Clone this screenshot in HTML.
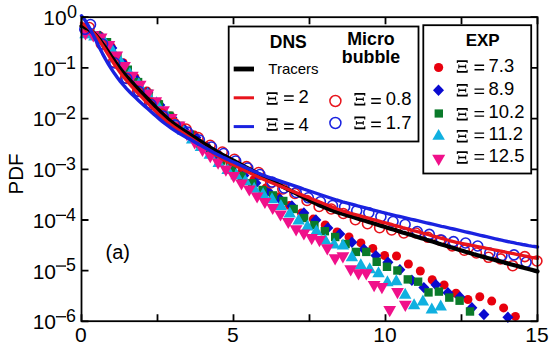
<!DOCTYPE html><html><head><meta charset="utf-8"><style>html,body{margin:0;padding:0;background:#fff;}svg{display:block;}</style></head><body>
<svg width="558" height="352" viewBox="0 0 558 352" font-family="Liberation Sans, sans-serif">
<g>
<circle cx="87.4" cy="32.3" r="4.5" fill="#e8000e"/><circle cx="99.3" cy="35.5" r="4.5" fill="#e8000e"/><circle cx="111.2" cy="46.6" r="4.5" fill="#e8000e"/><circle cx="123.1" cy="62.7" r="4.5" fill="#e8000e"/><circle cx="135.0" cy="77.5" r="4.5" fill="#e8000e"/><circle cx="146.9" cy="90.9" r="4.5" fill="#e8000e"/><circle cx="158.7" cy="103.2" r="4.5" fill="#e8000e"/><circle cx="170.6" cy="116.0" r="4.5" fill="#e8000e"/><circle cx="182.5" cy="127.6" r="4.5" fill="#e8000e"/><circle cx="194.4" cy="135.1" r="4.5" fill="#e8000e"/><circle cx="206.3" cy="145.9" r="4.5" fill="#e8000e"/><circle cx="218.2" cy="154.7" r="4.5" fill="#e8000e"/><circle cx="230.1" cy="163.1" r="4.5" fill="#e8000e"/><circle cx="242.0" cy="171.4" r="4.5" fill="#e8000e"/><circle cx="253.9" cy="179.7" r="4.5" fill="#e8000e"/><circle cx="265.8" cy="188.1" r="4.5" fill="#e8000e"/><circle cx="277.6" cy="197.0" r="4.5" fill="#e8000e"/><circle cx="289.5" cy="205.6" r="4.5" fill="#e8000e"/><circle cx="301.4" cy="213.1" r="4.5" fill="#e8000e"/><circle cx="313.3" cy="219.1" r="4.5" fill="#e8000e"/><circle cx="325.2" cy="225.0" r="4.5" fill="#e8000e"/><circle cx="337.1" cy="232.0" r="4.5" fill="#e8000e"/><circle cx="349.0" cy="236.9" r="4.5" fill="#e8000e"/><circle cx="360.9" cy="242.9" r="4.5" fill="#e8000e"/><circle cx="372.8" cy="248.4" r="4.5" fill="#e8000e"/><circle cx="384.6" cy="255.5" r="4.5" fill="#e8000e"/><circle cx="396.5" cy="256.0" r="4.5" fill="#e8000e"/><circle cx="408.4" cy="264.0" r="4.5" fill="#e8000e"/><circle cx="420.3" cy="271.0" r="4.5" fill="#e8000e"/><circle cx="432.2" cy="279.8" r="4.5" fill="#e8000e"/><circle cx="444.1" cy="284.9" r="4.5" fill="#e8000e"/><circle cx="456.0" cy="293.3" r="4.5" fill="#e8000e"/><circle cx="467.9" cy="299.5" r="4.5" fill="#e8000e"/><circle cx="479.8" cy="296.8" r="4.5" fill="#e8000e"/><circle cx="491.7" cy="301.1" r="4.5" fill="#e8000e"/><circle cx="503.6" cy="307.9" r="4.5" fill="#e8000e"/><circle cx="515.4" cy="316.4" r="4.5" fill="#e8000e"/>
<path d="M87.9,27.2l5.5,5.7l-5.5,5.7l-5.5,-5.7z" fill="#0a0ad0"/><path d="M99.9,30.6l5.5,5.7l-5.5,5.7l-5.5,-5.7z" fill="#0a0ad0"/><path d="M111.9,42.3l5.5,5.7l-5.5,5.7l-5.5,-5.7z" fill="#0a0ad0"/><path d="M123.9,58.5l5.5,5.7l-5.5,5.7l-5.5,-5.7z" fill="#0a0ad0"/><path d="M135.9,73.4l5.5,5.7l-5.5,5.7l-5.5,-5.7z" fill="#0a0ad0"/><path d="M147.9,86.9l5.5,5.7l-5.5,5.7l-5.5,-5.7z" fill="#0a0ad0"/><path d="M159.9,99.4l5.5,5.7l-5.5,5.7l-5.5,-5.7z" fill="#0a0ad0"/><path d="M171.9,112.0l5.5,5.7l-5.5,5.7l-5.5,-5.7z" fill="#0a0ad0"/><path d="M183.9,123.5l5.5,5.7l-5.5,5.7l-5.5,-5.7z" fill="#0a0ad0"/><path d="M195.9,131.7l5.5,5.7l-5.5,5.7l-5.5,-5.7z" fill="#0a0ad0"/><path d="M207.9,142.6l5.5,5.7l-5.5,5.7l-5.5,-5.7z" fill="#0a0ad0"/><path d="M219.9,152.6l5.5,5.7l-5.5,5.7l-5.5,-5.7z" fill="#0a0ad0"/><path d="M231.9,161.7l5.5,5.7l-5.5,5.7l-5.5,-5.7z" fill="#0a0ad0"/><path d="M243.9,169.7l5.5,5.7l-5.5,5.7l-5.5,-5.7z" fill="#0a0ad0"/><path d="M255.9,177.4l5.5,5.7l-5.5,5.7l-5.5,-5.7z" fill="#0a0ad0"/><path d="M267.9,185.4l5.5,5.7l-5.5,5.7l-5.5,-5.7z" fill="#0a0ad0"/><path d="M279.9,193.2l5.5,5.7l-5.5,5.7l-5.5,-5.7z" fill="#0a0ad0"/><path d="M291.9,200.3l5.5,5.7l-5.5,5.7l-5.5,-5.7z" fill="#0a0ad0"/><path d="M303.9,207.2l5.5,5.7l-5.5,5.7l-5.5,-5.7z" fill="#0a0ad0"/><path d="M315.9,214.3l5.5,5.7l-5.5,5.7l-5.5,-5.7z" fill="#0a0ad0"/><path d="M327.9,222.2l5.5,5.7l-5.5,5.7l-5.5,-5.7z" fill="#0a0ad0"/><path d="M339.9,228.2l5.5,5.7l-5.5,5.7l-5.5,-5.7z" fill="#0a0ad0"/><path d="M351.9,236.6l5.5,5.7l-5.5,5.7l-5.5,-5.7z" fill="#0a0ad0"/><path d="M363.9,243.5l5.5,5.7l-5.5,5.7l-5.5,-5.7z" fill="#0a0ad0"/><path d="M375.9,249.9l5.5,5.7l-5.5,5.7l-5.5,-5.7z" fill="#0a0ad0"/><path d="M387.9,256.5l5.5,5.7l-5.5,5.7l-5.5,-5.7z" fill="#0a0ad0"/><path d="M399.9,264.1l5.5,5.7l-5.5,5.7l-5.5,-5.7z" fill="#0a0ad0"/><path d="M411.9,274.5l5.5,5.7l-5.5,5.7l-5.5,-5.7z" fill="#0a0ad0"/><path d="M423.9,281.9l5.5,5.7l-5.5,5.7l-5.5,-5.7z" fill="#0a0ad0"/><path d="M435.9,279.1l5.5,5.7l-5.5,5.7l-5.5,-5.7z" fill="#0a0ad0"/><path d="M447.9,287.0l5.5,5.7l-5.5,5.7l-5.5,-5.7z" fill="#0a0ad0"/><path d="M459.9,291.2l5.5,5.7l-5.5,5.7l-5.5,-5.7z" fill="#0a0ad0"/><path d="M471.9,302.1l5.5,5.7l-5.5,5.7l-5.5,-5.7z" fill="#0a0ad0"/><path d="M483.9,308.8l5.5,5.7l-5.5,5.7l-5.5,-5.7z" fill="#0a0ad0"/><path d="M507.9,311.6l5.5,5.7l-5.5,5.7l-5.5,-5.7z" fill="#0a0ad0"/>
<rect x="82.1" y="28.8" width="8.4" height="8.4" fill="#0a7a2a"/><rect x="92.5" y="31.5" width="8.4" height="8.4" fill="#0a7a2a"/><rect x="102.8" y="38.0" width="8.4" height="8.4" fill="#0a7a2a"/><rect x="113.2" y="51.9" width="8.4" height="8.4" fill="#0a7a2a"/><rect x="123.6" y="65.5" width="8.4" height="8.4" fill="#0a7a2a"/><rect x="133.9" y="77.9" width="8.4" height="8.4" fill="#0a7a2a"/><rect x="144.3" y="89.5" width="8.4" height="8.4" fill="#0a7a2a"/><rect x="154.7" y="100.2" width="8.4" height="8.4" fill="#0a7a2a"/><rect x="165.1" y="111.5" width="8.4" height="8.4" fill="#0a7a2a"/><rect x="175.4" y="121.7" width="8.4" height="8.4" fill="#0a7a2a"/><rect x="185.8" y="130.4" width="8.4" height="8.4" fill="#0a7a2a"/><rect x="196.2" y="139.6" width="8.4" height="8.4" fill="#0a7a2a"/><rect x="206.5" y="148.3" width="8.4" height="8.4" fill="#0a7a2a"/><rect x="216.9" y="156.4" width="8.4" height="8.4" fill="#0a7a2a"/><rect x="227.3" y="164.0" width="8.4" height="8.4" fill="#0a7a2a"/><rect x="237.6" y="171.7" width="8.4" height="8.4" fill="#0a7a2a"/><rect x="248.0" y="179.1" width="8.4" height="8.4" fill="#0a7a2a"/><rect x="258.4" y="185.8" width="8.4" height="8.4" fill="#0a7a2a"/><rect x="268.8" y="191.2" width="8.4" height="8.4" fill="#0a7a2a"/><rect x="279.1" y="196.8" width="8.4" height="8.4" fill="#0a7a2a"/><rect x="289.5" y="204.8" width="8.4" height="8.4" fill="#0a7a2a"/><rect x="299.9" y="213.8" width="8.4" height="8.4" fill="#0a7a2a"/><rect x="310.2" y="220.9" width="8.4" height="8.4" fill="#0a7a2a"/><rect x="320.6" y="227.0" width="8.4" height="8.4" fill="#0a7a2a"/><rect x="331.0" y="232.8" width="8.4" height="8.4" fill="#0a7a2a"/><rect x="341.4" y="239.8" width="8.4" height="8.4" fill="#0a7a2a"/><rect x="351.7" y="247.7" width="8.4" height="8.4" fill="#0a7a2a"/><rect x="362.1" y="247.7" width="8.4" height="8.4" fill="#0a7a2a"/><rect x="372.5" y="257.6" width="8.4" height="8.4" fill="#0a7a2a"/><rect x="382.8" y="262.6" width="8.4" height="8.4" fill="#0a7a2a"/><rect x="393.2" y="266.3" width="8.4" height="8.4" fill="#0a7a2a"/><rect x="403.6" y="275.2" width="8.4" height="8.4" fill="#0a7a2a"/><rect x="413.9" y="277.5" width="8.4" height="8.4" fill="#0a7a2a"/><rect x="424.3" y="288.2" width="8.4" height="8.4" fill="#0a7a2a"/><rect x="434.7" y="287.4" width="8.4" height="8.4" fill="#0a7a2a"/><rect x="445.1" y="293.4" width="8.4" height="8.4" fill="#0a7a2a"/><rect x="455.4" y="296.5" width="8.4" height="8.4" fill="#0a7a2a"/><rect x="465.8" y="307.3" width="8.4" height="8.4" fill="#0a7a2a"/>
<path d="M79.3,38.3l6.2,-11l6.2,11z" fill="#10b0e0"/><path d="M88.2,40.6l6.2,-11l6.2,11z" fill="#10b0e0"/><path d="M97.1,43.8l6.2,-11l6.2,11z" fill="#10b0e0"/><path d="M105.9,54.3l6.2,-11l6.2,11z" fill="#10b0e0"/><path d="M114.8,66.4l6.2,-11l6.2,11z" fill="#10b0e0"/><path d="M123.7,77.9l6.2,-11l6.2,11z" fill="#10b0e0"/><path d="M132.6,88.3l6.2,-11l6.2,11z" fill="#10b0e0"/><path d="M141.5,98.3l6.2,-11l6.2,11z" fill="#10b0e0"/><path d="M150.3,107.2l6.2,-11l6.2,11z" fill="#10b0e0"/><path d="M159.2,117.5l6.2,-11l6.2,11z" fill="#10b0e0"/><path d="M168.1,126.1l6.2,-11l6.2,11z" fill="#10b0e0"/><path d="M177.0,134.7l6.2,-11l6.2,11z" fill="#10b0e0"/><path d="M185.9,143.6l6.2,-11l6.2,11z" fill="#10b0e0"/><path d="M194.7,151.0l6.2,-11l6.2,11z" fill="#10b0e0"/><path d="M203.6,158.8l6.2,-11l6.2,11z" fill="#10b0e0"/><path d="M212.5,167.1l6.2,-11l6.2,11z" fill="#10b0e0"/><path d="M221.4,174.0l6.2,-11l6.2,11z" fill="#10b0e0"/><path d="M230.3,179.2l6.2,-11l6.2,11z" fill="#10b0e0"/><path d="M239.1,185.3l6.2,-11l6.2,11z" fill="#10b0e0"/><path d="M248.0,192.8l6.2,-11l6.2,11z" fill="#10b0e0"/><path d="M256.9,198.2l6.2,-11l6.2,11z" fill="#10b0e0"/><path d="M265.8,203.3l6.2,-11l6.2,11z" fill="#10b0e0"/><path d="M274.7,209.9l6.2,-11l6.2,11z" fill="#10b0e0"/><path d="M283.5,217.4l6.2,-11l6.2,11z" fill="#10b0e0"/><path d="M292.4,224.4l6.2,-11l6.2,11z" fill="#10b0e0"/><path d="M301.3,230.5l6.2,-11l6.2,11z" fill="#10b0e0"/><path d="M310.2,235.3l6.2,-11l6.2,11z" fill="#10b0e0"/><path d="M319.1,244.5l6.2,-11l6.2,11z" fill="#10b0e0"/><path d="M327.9,248.5l6.2,-11l6.2,11z" fill="#10b0e0"/><path d="M336.8,249.5l6.2,-11l6.2,11z" fill="#10b0e0"/><path d="M345.7,261.3l6.2,-11l6.2,11z" fill="#10b0e0"/><path d="M354.6,269.2l6.2,-11l6.2,11z" fill="#10b0e0"/><path d="M363.5,273.3l6.2,-11l6.2,11z" fill="#10b0e0"/><path d="M372.3,277.3l6.2,-11l6.2,11z" fill="#10b0e0"/><path d="M381.2,286.2l6.2,-11l6.2,11z" fill="#10b0e0"/><path d="M390.1,285.2l6.2,-11l6.2,11z" fill="#10b0e0"/><path d="M399.0,298.8l6.2,-11l6.2,11z" fill="#10b0e0"/><path d="M407.9,309.3l6.2,-11l6.2,11z" fill="#10b0e0"/><path d="M416.7,305.5l6.2,-11l6.2,11z" fill="#10b0e0"/><path d="M425.6,313.5l6.2,-11l6.2,11z" fill="#10b0e0"/><path d="M434.5,310.5l6.2,-11l6.2,11z" fill="#10b0e0"/>
<path d="M79.1,29.2h12.8l-6.4,11.2z" fill="#f0108a"/><path d="M86.9,31.3h12.8l-6.4,11.2z" fill="#f0108a"/><path d="M94.7,33.6h12.8l-6.4,11.2z" fill="#f0108a"/><path d="M102.5,41.1h12.8l-6.4,11.2z" fill="#f0108a"/><path d="M110.3,51.5h12.8l-6.4,11.2z" fill="#f0108a"/><path d="M118.1,61.9h12.8l-6.4,11.2z" fill="#f0108a"/><path d="M125.9,71.8h12.8l-6.4,11.2z" fill="#f0108a"/><path d="M133.7,80.7h12.8l-6.4,11.2z" fill="#f0108a"/><path d="M141.5,89.5h12.8l-6.4,11.2z" fill="#f0108a"/><path d="M149.3,97.2h12.8l-6.4,11.2z" fill="#f0108a"/><path d="M157.1,106.3h12.8l-6.4,11.2z" fill="#f0108a"/><path d="M164.9,114.1h12.8l-6.4,11.2z" fill="#f0108a"/><path d="M172.7,121.5h12.8l-6.4,11.2z" fill="#f0108a"/><path d="M180.5,129.7h12.8l-6.4,11.2z" fill="#f0108a"/><path d="M188.3,138.2h12.8l-6.4,11.2z" fill="#f0108a"/><path d="M196.1,145.8h12.8l-6.4,11.2z" fill="#f0108a"/><path d="M203.9,152.0h12.8l-6.4,11.2z" fill="#f0108a"/><path d="M211.7,158.5h12.8l-6.4,11.2z" fill="#f0108a"/><path d="M219.5,165.5h12.8l-6.4,11.2z" fill="#f0108a"/><path d="M227.3,172.0h12.8l-6.4,11.2z" fill="#f0108a"/><path d="M235.1,179.4h12.8l-6.4,11.2z" fill="#f0108a"/><path d="M242.9,185.4h12.8l-6.4,11.2z" fill="#f0108a"/><path d="M250.7,192.4h12.8l-6.4,11.2z" fill="#f0108a"/><path d="M258.5,197.9h12.8l-6.4,11.2z" fill="#f0108a"/><path d="M266.3,203.9h12.8l-6.4,11.2z" fill="#f0108a"/><path d="M274.1,210.4h12.8l-6.4,11.2z" fill="#f0108a"/><path d="M281.9,217.9h12.8l-6.4,11.2z" fill="#f0108a"/><path d="M289.7,225.2h12.8l-6.4,11.2z" fill="#f0108a"/><path d="M297.5,229.4h12.8l-6.4,11.2z" fill="#f0108a"/><path d="M305.3,234.1h12.8l-6.4,11.2z" fill="#f0108a"/><path d="M313.1,236.1h12.8l-6.4,11.2z" fill="#f0108a"/><path d="M320.9,244.3h12.8l-6.4,11.2z" fill="#f0108a"/><path d="M328.7,254.3h12.8l-6.4,11.2z" fill="#f0108a"/><path d="M336.5,252.3h12.8l-6.4,11.2z" fill="#f0108a"/><path d="M344.3,265.2h12.8l-6.4,11.2z" fill="#f0108a"/><path d="M352.1,269.2h12.8l-6.4,11.2z" fill="#f0108a"/><path d="M359.9,269.2h12.8l-6.4,11.2z" fill="#f0108a"/><path d="M367.7,281.1h12.8l-6.4,11.2z" fill="#f0108a"/><path d="M375.5,283.1h12.8l-6.4,11.2z" fill="#f0108a"/><path d="M383.3,306.1h12.8l-6.4,11.2z" fill="#f0108a"/><path d="M391.1,288.0h12.8l-6.4,11.2z" fill="#f0108a"/><path d="M398.9,300.8h12.8l-6.4,11.2z" fill="#f0108a"/>
<g fill="none" stroke-linejoin="round" stroke-linecap="round">
<circle cx="89.2" cy="27.5" r="5" fill="none" stroke="#e8141c" stroke-width="1.6"/><circle cx="101.3" cy="44.0" r="5" fill="none" stroke="#e8141c" stroke-width="1.6"/><circle cx="113.4" cy="62.0" r="5" fill="none" stroke="#e8141c" stroke-width="1.6"/><circle cx="125.5" cy="78.0" r="5" fill="none" stroke="#e8141c" stroke-width="1.6"/><circle cx="137.6" cy="91.0" r="5" fill="none" stroke="#e8141c" stroke-width="1.6"/><circle cx="149.7" cy="103.0" r="5" fill="none" stroke="#e8141c" stroke-width="1.6"/><circle cx="161.8" cy="114.0" r="5" fill="none" stroke="#e8141c" stroke-width="1.6"/><circle cx="173.9" cy="123.0" r="5" fill="none" stroke="#e8141c" stroke-width="1.6"/><circle cx="186.0" cy="129.0" r="5" fill="none" stroke="#e8141c" stroke-width="1.6"/><circle cx="198.1" cy="137.5" r="5" fill="none" stroke="#e8141c" stroke-width="1.6"/><circle cx="210.2" cy="145.3" r="5" fill="none" stroke="#e8141c" stroke-width="1.6"/><circle cx="222.3" cy="152.0" r="5" fill="none" stroke="#e8141c" stroke-width="1.6"/><circle cx="234.4" cy="159.3" r="5" fill="none" stroke="#e8141c" stroke-width="1.6"/><circle cx="246.5" cy="166.6" r="5" fill="none" stroke="#e8141c" stroke-width="1.6"/><circle cx="258.6" cy="172.5" r="5" fill="none" stroke="#e8141c" stroke-width="1.6"/><circle cx="270.7" cy="183.0" r="5" fill="none" stroke="#e8141c" stroke-width="1.6"/><circle cx="282.8" cy="189.0" r="5" fill="none" stroke="#e8141c" stroke-width="1.6"/><circle cx="294.9" cy="193.5" r="5" fill="none" stroke="#e8141c" stroke-width="1.6"/><circle cx="307.0" cy="200.5" r="5" fill="none" stroke="#e8141c" stroke-width="1.6"/><circle cx="319.1" cy="206.5" r="5" fill="none" stroke="#e8141c" stroke-width="1.6"/><circle cx="331.2" cy="209.0" r="5" fill="none" stroke="#e8141c" stroke-width="1.6"/><circle cx="343.3" cy="213.5" r="5" fill="none" stroke="#e8141c" stroke-width="1.6"/><circle cx="355.4" cy="219.7" r="5" fill="none" stroke="#e8141c" stroke-width="1.6"/><circle cx="367.5" cy="223.7" r="5" fill="none" stroke="#e8141c" stroke-width="1.6"/><circle cx="379.6" cy="227.7" r="5" fill="none" stroke="#e8141c" stroke-width="1.6"/><circle cx="391.7" cy="230.0" r="5" fill="none" stroke="#e8141c" stroke-width="1.6"/><circle cx="403.8" cy="233.0" r="5" fill="none" stroke="#e8141c" stroke-width="1.6"/><circle cx="415.9" cy="233.0" r="5" fill="none" stroke="#e8141c" stroke-width="1.6"/><circle cx="428.0" cy="237.3" r="5" fill="none" stroke="#e8141c" stroke-width="1.6"/><circle cx="440.1" cy="240.1" r="5" fill="none" stroke="#e8141c" stroke-width="1.6"/><circle cx="452.2" cy="245.9" r="5" fill="none" stroke="#e8141c" stroke-width="1.6"/><circle cx="464.3" cy="250.2" r="5" fill="none" stroke="#e8141c" stroke-width="1.6"/><circle cx="476.4" cy="253.0" r="5" fill="none" stroke="#e8141c" stroke-width="1.6"/><circle cx="488.5" cy="257.3" r="5" fill="none" stroke="#e8141c" stroke-width="1.6"/><circle cx="500.6" cy="258.9" r="5" fill="none" stroke="#e8141c" stroke-width="1.6"/><circle cx="512.7" cy="265.7" r="5" fill="none" stroke="#e8141c" stroke-width="1.6"/><circle cx="524.8" cy="256.6" r="5" fill="none" stroke="#e8141c" stroke-width="1.6"/><circle cx="536.9" cy="261.0" r="5" fill="none" stroke="#e8141c" stroke-width="1.6"/>
<circle cx="84.8" cy="29.3" r="5" fill="none" stroke="#1a22e0" stroke-width="1.6"/><circle cx="90.5" cy="24.5" r="5" fill="none" stroke="#1a22e0" stroke-width="1.6"/><circle cx="102.6" cy="44.0" r="5" fill="none" stroke="#1a22e0" stroke-width="1.6"/><circle cx="114.7" cy="63.0" r="5" fill="none" stroke="#1a22e0" stroke-width="1.6"/><circle cx="126.8" cy="78.5" r="5" fill="none" stroke="#1a22e0" stroke-width="1.6"/><circle cx="138.9" cy="91.5" r="5" fill="none" stroke="#1a22e0" stroke-width="1.6"/><circle cx="151.0" cy="104.5" r="5" fill="none" stroke="#1a22e0" stroke-width="1.6"/><circle cx="163.1" cy="116.0" r="5" fill="none" stroke="#1a22e0" stroke-width="1.6"/><circle cx="175.2" cy="125.0" r="5" fill="none" stroke="#1a22e0" stroke-width="1.6"/><circle cx="187.3" cy="132.0" r="5" fill="none" stroke="#1a22e0" stroke-width="1.6"/><circle cx="199.4" cy="140.0" r="5" fill="none" stroke="#1a22e0" stroke-width="1.6"/><circle cx="211.5" cy="147.0" r="5" fill="none" stroke="#1a22e0" stroke-width="1.6"/><circle cx="223.6" cy="153.5" r="5" fill="none" stroke="#1a22e0" stroke-width="1.6"/><circle cx="235.7" cy="161.0" r="5" fill="none" stroke="#1a22e0" stroke-width="1.6"/><circle cx="247.8" cy="168.0" r="5" fill="none" stroke="#1a22e0" stroke-width="1.6"/><circle cx="259.9" cy="174.5" r="5" fill="none" stroke="#1a22e0" stroke-width="1.6"/><circle cx="272.0" cy="182.0" r="5" fill="none" stroke="#1a22e0" stroke-width="1.6"/><circle cx="284.1" cy="188.0" r="5" fill="none" stroke="#1a22e0" stroke-width="1.6"/><circle cx="296.2" cy="192.5" r="5" fill="none" stroke="#1a22e0" stroke-width="1.6"/><circle cx="308.3" cy="197.8" r="5" fill="none" stroke="#1a22e0" stroke-width="1.6"/><circle cx="320.4" cy="201.8" r="5" fill="none" stroke="#1a22e0" stroke-width="1.6"/><circle cx="332.5" cy="205.5" r="5" fill="none" stroke="#1a22e0" stroke-width="1.6"/><circle cx="344.6" cy="207.0" r="5" fill="none" stroke="#1a22e0" stroke-width="1.6"/><circle cx="356.7" cy="210.8" r="5" fill="none" stroke="#1a22e0" stroke-width="1.6"/><circle cx="368.8" cy="212.7" r="5" fill="none" stroke="#1a22e0" stroke-width="1.6"/><circle cx="380.9" cy="216.7" r="5" fill="none" stroke="#1a22e0" stroke-width="1.6"/><circle cx="393.0" cy="221.5" r="5" fill="none" stroke="#1a22e0" stroke-width="1.6"/><circle cx="405.1" cy="224.5" r="5" fill="none" stroke="#1a22e0" stroke-width="1.6"/><circle cx="417.2" cy="231.5" r="5" fill="none" stroke="#1a22e0" stroke-width="1.6"/><circle cx="429.3" cy="234.4" r="5" fill="none" stroke="#1a22e0" stroke-width="1.6"/><circle cx="441.4" cy="240.0" r="5" fill="none" stroke="#1a22e0" stroke-width="1.6"/><circle cx="453.5" cy="241.6" r="5" fill="none" stroke="#1a22e0" stroke-width="1.6"/><circle cx="465.6" cy="243.0" r="5" fill="none" stroke="#1a22e0" stroke-width="1.6"/><circle cx="477.7" cy="246.0" r="5" fill="none" stroke="#1a22e0" stroke-width="1.6"/><circle cx="489.8" cy="253.0" r="5" fill="none" stroke="#1a22e0" stroke-width="1.6"/><circle cx="501.9" cy="255.5" r="5" fill="none" stroke="#1a22e0" stroke-width="1.6"/><circle cx="514.0" cy="254.9" r="5" fill="none" stroke="#1a22e0" stroke-width="1.6"/><circle cx="526.1" cy="262.3" r="5" fill="none" stroke="#1a22e0" stroke-width="1.6"/>
<path d="M81.5,26.0 L84.5,27.1 L87.5,28.6 L90.5,30.6 L93.5,33.1 L96.5,36.1 L99.5,39.7 L102.5,43.7 L105.5,48.0 L108.5,52.4 L111.5,56.9 L114.5,61.2 L117.5,65.4 L120.5,69.3 L123.5,73.1 L126.5,76.6 L129.5,80.0 L132.5,83.2 L135.5,86.4 L138.5,89.5 L141.5,92.6 L144.5,95.7 L147.5,98.8 L150.5,101.9 L153.5,105.0 L156.5,108.1 L159.5,111.1 L162.5,114.0 L165.5,116.9 L168.5,119.5 L171.5,122.0 L174.5,124.3 L177.5,126.5 L180.5,128.5 L183.5,130.4 L186.5,132.3 L189.5,134.3 L192.5,136.2 L195.5,138.1 L198.5,140.1 L201.5,142.0 L204.5,143.9 L207.5,145.8 L210.5,147.8 L213.5,149.6 L216.5,151.5 L219.5,153.2 L222.5,154.8 L225.5,156.4 L228.5,158.0 L231.5,159.6 L234.5,161.2 L237.5,162.8 L240.5,164.4 L243.5,166.0 L246.5,167.6 L249.5,169.2 L252.5,170.8 L255.5,172.4 L258.5,174.0 L261.5,175.6 L264.5,177.2 L267.5,178.7 L270.5,180.3 L273.5,181.9 L276.5,183.5 L279.5,185.0 L282.5,186.6 L285.5,188.1 L288.5,189.6 L291.5,191.2 L294.5,192.7 L297.5,194.2 L300.5,195.8 L303.5,197.3 L306.5,198.9 L309.5,200.4 L312.5,201.9 L315.5,203.3 L318.5,204.7 L321.5,206.1 L324.5,207.4 L327.5,208.6 L330.5,209.8 L333.5,210.9 L336.5,211.9 L339.5,212.9 L342.5,213.8 L345.5,214.8 L348.5,215.7 L351.5,216.6 L354.5,217.5 L357.5,218.5 L360.5,219.4 L363.5,220.3 L366.5,221.2 L369.5,222.2 L372.5,223.1 L375.5,224.0 L378.5,225.0 L381.5,225.9 L384.5,226.8 L387.5,227.7 L390.5,228.7 L393.5,229.6 L396.5,230.5 L399.5,231.4 L402.5,232.4 L405.5,233.3 L408.5,234.2 L411.5,235.1 L414.5,236.1 L417.5,237.0 L420.5,237.9 L423.5,238.8 L426.5,239.8 L429.5,240.7 L432.5,241.6 L435.5,242.5 L438.5,243.5 L441.5,244.4 L444.5,245.3 L447.5,246.2 L450.5,247.2 L453.5,248.1 L456.5,249.0 L459.5,249.9 L462.5,250.8 L465.5,251.8 L468.5,252.6 L471.5,253.5 L474.5,254.4 L477.5,255.2 L480.5,256.1 L483.5,256.9 L486.5,257.7 L489.5,258.5 L492.5,259.3 L495.5,260.1 L498.5,260.9 L501.5,261.7 L504.5,262.6 L507.5,263.4 L510.5,264.2 L513.5,265.0 L516.5,265.8 L519.5,266.6 L522.5,267.4 L525.5,268.2 L528.5,269.0 L531.5,269.8 L534.5,270.6 L537.5,271.4" stroke="#000" stroke-width="4.2"/>
<path d="M81.5,23.0 L84.5,24.6 L87.5,26.8 L90.5,29.6 L93.5,32.9 L96.5,36.8 L99.5,41.0 L102.5,45.6 L105.5,50.4 L108.5,55.2 L111.5,59.9 L114.5,64.5 L117.5,68.9 L120.5,73.0 L123.5,76.9 L126.5,80.5 L129.5,84.0 L132.5,87.4 L135.5,90.6 L138.5,93.8 L141.5,96.9 L144.5,100.1 L147.5,103.2 L150.5,106.2 L153.5,109.3 L156.5,112.2 L159.5,115.1 L162.5,117.8 L165.5,120.4 L168.5,122.9 L171.5,125.2 L174.5,127.3 L177.5,129.4 L180.5,131.4 L183.5,133.4 L186.5,135.4 L189.5,137.3 L192.5,139.3 L195.5,141.3 L198.5,143.3 L201.5,145.3 L204.5,147.3 L207.5,149.3 L210.5,151.3 L213.5,153.3 L216.5,155.3 L219.5,157.2 L222.5,159.0 L225.5,160.7 L228.5,162.2 L231.5,163.8 L234.5,165.3 L237.5,166.7 L240.5,168.2 L243.5,169.7 L246.5,171.2 L249.5,172.7 L252.5,174.2 L255.5,175.6 L258.5,177.1 L261.5,178.5 L264.5,179.8 L267.5,181.1 L270.5,182.3 L273.5,183.5 L276.5,184.7 L279.5,185.9 L282.5,187.1 L285.5,188.3 L288.5,189.5 L291.5,190.8 L294.5,192.0 L297.5,193.2 L300.5,194.4 L303.5,195.6 L306.5,196.8 L309.5,198.0 L312.5,199.2 L315.5,200.4 L318.5,201.6 L321.5,202.8 L324.5,204.0 L327.5,205.2 L330.5,206.4 L333.5,207.6 L336.5,208.8 L339.5,209.8 L342.5,210.8 L345.5,211.7 L348.5,212.6 L351.5,213.5 L354.5,214.3 L357.5,215.1 L360.5,215.9 L363.5,216.8 L366.5,217.6 L369.5,218.4 L372.5,219.3 L375.5,220.1 L378.5,220.9 L381.5,221.8 L384.5,222.6 L387.5,223.4 L390.5,224.2 L393.5,225.1 L396.5,225.9 L399.5,226.7 L402.5,227.6 L405.5,228.4 L408.5,229.2 L411.5,230.1 L414.5,230.9 L417.5,231.7 L420.5,232.5 L423.5,233.4 L426.5,234.2 L429.5,235.0 L432.5,235.9 L435.5,236.7 L438.5,237.5 L441.5,238.4 L444.5,239.2 L447.5,240.0 L450.5,240.8 L453.5,241.6 L456.5,242.3 L459.5,242.9 L462.5,243.5 L465.5,244.1 L468.5,244.7 L471.5,245.3 L474.5,245.9 L477.5,246.5 L480.5,247.1 L483.5,247.7 L486.5,248.3 L489.5,248.9 L492.5,249.5 L495.5,250.1 L498.5,250.7 L501.5,251.3 L504.5,251.9 L507.5,252.5 L510.5,253.1 L513.5,253.7 L516.5,254.3 L519.5,254.9 L522.5,255.5 L525.5,256.1 L528.5,256.7 L531.5,257.3 L534.5,257.8 L537.5,258.4" stroke="#e8141c" stroke-width="3.3"/>
<path d="M81.5,15.8 L84.5,19.5 L87.5,24.3 L90.5,29.7 L93.5,35.6 L96.5,41.7 L99.5,47.7 L102.5,53.6 L105.5,59.1 L108.5,64.3 L111.5,69.1 L114.5,73.6 L117.5,77.7 L120.5,81.6 L123.5,85.2 L126.5,88.6 L129.5,91.7 L132.5,94.8 L135.5,97.6 L138.5,100.4 L141.5,103.2 L144.5,105.9 L147.5,108.6 L150.5,111.3 L153.5,113.9 L156.5,116.5 L159.5,119.1 L162.5,121.6 L165.5,124.0 L168.5,126.2 L171.5,128.4 L174.5,130.4 L177.5,132.2 L180.5,134.0 L183.5,135.7 L186.5,137.4 L189.5,139.0 L192.5,140.7 L195.5,142.4 L198.5,144.1 L201.5,145.7 L204.5,147.4 L207.5,149.1 L210.5,150.7 L213.5,152.4 L216.5,154.0 L219.5,155.5 L222.5,157.0 L225.5,158.4 L228.5,159.8 L231.5,161.2 L234.5,162.5 L237.5,163.9 L240.5,165.3 L243.5,166.6 L246.5,168.0 L249.5,169.3 L252.5,170.7 L255.5,172.0 L258.5,173.3 L261.5,174.6 L264.5,175.7 L267.5,176.8 L270.5,177.9 L273.5,178.9 L276.5,179.9 L279.5,180.9 L282.5,181.9 L285.5,182.9 L288.5,183.9 L291.5,184.9 L294.5,185.9 L297.5,186.9 L300.5,187.9 L303.5,189.0 L306.5,190.0 L309.5,191.0 L312.5,192.0 L315.5,193.0 L318.5,194.0 L321.5,195.0 L324.5,196.0 L327.5,197.0 L330.5,198.0 L333.5,199.0 L336.5,200.0 L339.5,200.9 L342.5,201.8 L345.5,202.6 L348.5,203.4 L351.5,204.2 L354.5,205.0 L357.5,205.8 L360.5,206.6 L363.5,207.4 L366.5,208.2 L369.5,209.0 L372.5,209.8 L375.5,210.6 L378.5,211.4 L381.5,212.2 L384.5,212.9 L387.5,213.7 L390.5,214.4 L393.5,215.1 L396.5,215.8 L399.5,216.5 L402.5,217.2 L405.5,217.9 L408.5,218.6 L411.5,219.3 L414.5,220.0 L417.5,220.7 L420.5,221.4 L423.5,222.1 L426.5,222.8 L429.5,223.5 L432.5,224.2 L435.5,224.9 L438.5,225.6 L441.5,226.3 L444.5,226.9 L447.5,227.6 L450.5,228.3 L453.5,229.0 L456.5,229.7 L459.5,230.4 L462.5,231.1 L465.5,231.8 L468.5,232.5 L471.5,233.2 L474.5,233.9 L477.5,234.6 L480.5,235.3 L483.5,236.0 L486.5,236.7 L489.5,237.4 L492.5,238.1 L495.5,238.8 L498.5,239.5 L501.5,240.1 L504.5,240.8 L507.5,241.5 L510.5,242.1 L513.5,242.7 L516.5,243.4 L519.5,243.9 L522.5,244.5 L525.5,245.0 L528.5,245.6 L531.5,246.1 L534.5,246.5 L537.5,247.0" stroke="#1a22e0" stroke-width="3.4"/>
</g></g>
<rect x="81.5" y="17.2" width="456.0" height="304.0" fill="none" stroke="#000" stroke-width="1.8"/>
<path d="M81.5,321.2v-7M81.5,17.2v7M157.5,321.2v-7M157.5,17.2v7M233.5,321.2v-7M233.5,17.2v7M309.5,321.2v-7M309.5,17.2v7M385.5,321.2v-7M385.5,17.2v7M461.5,321.2v-7M461.5,17.2v7M537.5,321.2v-7M537.5,17.2v7M81.5,17.2h7M537.5,17.2h-7M81.5,67.9h7M537.5,67.9h-7M81.5,118.6h7M537.5,118.6h-7M81.5,169.3h7M537.5,169.3h-7M81.5,220.0h7M537.5,220.0h-7M81.5,270.7h7M537.5,270.7h-7M81.5,321.4h7M537.5,321.4h-7" stroke="#000" stroke-width="1.8" fill="none"/>
<text x="66.6" y="25.0" font-size="21" text-anchor="end">10</text>
<text x="67.0" y="18.1" font-size="18">0</text>
<text x="56.0" y="75.7" font-size="21" text-anchor="end">10</text>
<rect x="55.9" y="62.6" width="10.1" height="1.3" fill="#000"/>
<text x="66.0" y="68.6" font-size="17.8">1</text>
<text x="56.0" y="126.4" font-size="21" text-anchor="end">10</text>
<rect x="55.9" y="113.3" width="10.1" height="1.3" fill="#000"/>
<text x="66.0" y="119.3" font-size="17.8">2</text>
<text x="56.0" y="177.1" font-size="21" text-anchor="end">10</text>
<rect x="55.9" y="164.0" width="10.1" height="1.3" fill="#000"/>
<text x="66.0" y="170.0" font-size="17.8">3</text>
<text x="56.0" y="227.8" font-size="21" text-anchor="end">10</text>
<rect x="55.9" y="214.7" width="10.1" height="1.3" fill="#000"/>
<text x="66.0" y="220.7" font-size="17.8">4</text>
<text x="56.0" y="278.5" font-size="21" text-anchor="end">10</text>
<rect x="55.9" y="265.4" width="10.1" height="1.3" fill="#000"/>
<text x="66.0" y="271.4" font-size="17.8">5</text>
<text x="56.0" y="329.2" font-size="21" text-anchor="end">10</text>
<rect x="55.9" y="316.1" width="10.1" height="1.3" fill="#000"/>
<text x="66.0" y="322.1" font-size="17.8">6</text>
<text x="80.9" y="341.8" font-size="21" text-anchor="middle">0</text>
<text x="232.9" y="341.8" font-size="21" text-anchor="middle">5</text>
<text x="384.9" y="341.8" font-size="21" text-anchor="middle">10</text>
<text x="536.9" y="341.8" font-size="21" text-anchor="middle">15</text>
<text transform="translate(23.4,174) rotate(-90)" font-size="20.5" text-anchor="middle">PDF</text>
<text x="105.5" y="259" font-size="20">(a)</text>
<rect x="228.7" y="26.5" width="189.8" height="115" fill="#fff" stroke="#000" stroke-width="1.8"/>
<text x="288.3" y="47.9" font-size="17.5" font-weight="bold" text-anchor="middle">DNS</text>
<text x="371" y="44.8" font-size="17.8" font-weight="bold" text-anchor="middle">Micro</text>
<text x="371" y="62.7" font-size="17.8" font-weight="bold" text-anchor="middle">bubble</text>
<path d="M233.7,69H254" stroke="#000" stroke-width="4.8"/>
<text x="268.3" y="74" font-size="15">Tracers</text>
<path d="M233.7,97.8H254" stroke="#e8141c" stroke-width="3"/>
<path d="M233.7,126.6H254" stroke="#1a22e0" stroke-width="3"/>
<path d="M266.70,92.20h10.90v1.75h-10.90zM266.70,92.20h1.10v2.90h-1.10zM276.50,92.20h1.10v2.90h-1.10zM268.20,97.75h7.90v1.50h-7.90zM268.20,96.60h1.00v3.80h-1.00zM275.10,96.60h1.00v3.80h-1.00zM266.70,103.05h10.90v1.75h-10.90zM266.70,101.80h1.10v3.00h-1.10zM276.50,101.80h1.10v3.00h-1.10z" fill="#000"/>
<path d="M284.1,95.33h9.6v1.35h-9.6zM284.1,99.73h9.6v1.35h-9.6z" fill="#000"/>
<text x="298.4" y="102.6" font-size="18.4">2</text>
<path d="M266.70,118.20h10.90v1.75h-10.90zM266.70,118.20h1.10v2.90h-1.10zM276.50,118.20h1.10v2.90h-1.10zM268.20,123.75h7.90v1.50h-7.90zM268.20,122.60h1.00v3.80h-1.00zM275.10,122.60h1.00v3.80h-1.00zM266.70,129.05h10.90v1.75h-10.90zM266.70,127.80h1.10v3.00h-1.10zM276.50,127.80h1.10v3.00h-1.10z" fill="#000"/>
<path d="M284.1,123.62h9.6v1.35h-9.6zM284.1,128.12h9.6v1.35h-9.6z" fill="#000"/>
<text x="298.4" y="131.3" font-size="18.4">4</text>
<circle cx="335.4" cy="101" r="5.5" fill="none" stroke="#e8141c" stroke-width="1.5"/>
<circle cx="335.4" cy="123" r="5.5" fill="none" stroke="#1a22e0" stroke-width="1.5"/>
<path d="M354.40,92.90h10.90v1.75h-10.90zM354.40,92.90h1.10v2.90h-1.10zM364.20,92.90h1.10v2.90h-1.10zM355.90,98.45h7.90v1.50h-7.90zM355.90,97.30h1.00v3.80h-1.00zM362.80,97.30h1.00v3.80h-1.00zM354.40,103.75h10.90v1.75h-10.90zM354.40,102.50h1.10v3.00h-1.10zM364.20,102.50h1.10v3.00h-1.10z" fill="#000"/>
<path d="M371.2,98.12h9.6v1.35h-9.6zM371.2,102.62h9.6v1.35h-9.6z" fill="#000"/>
<text x="385.8" y="105.3" font-size="18.4">0.8</text>
<path d="M354.40,116.60h10.90v1.75h-10.90zM354.40,116.60h1.10v2.90h-1.10zM364.20,116.60h1.10v2.90h-1.10zM355.90,122.15h7.90v1.50h-7.90zM355.90,121.00h1.00v3.80h-1.00zM362.80,121.00h1.00v3.80h-1.00zM354.40,127.45h10.90v1.75h-10.90zM354.40,126.20h1.10v3.00h-1.10zM364.20,126.20h1.10v3.00h-1.10z" fill="#000"/>
<path d="M371.2,121.53h9.6v1.35h-9.6zM371.2,125.92h9.6v1.35h-9.6z" fill="#000"/>
<text x="385.8" y="128.6" font-size="18.4">1.7</text>
<rect x="423.3" y="25.2" width="107.9" height="148.3" fill="#fff" stroke="#000" stroke-width="1.8"/>
<text x="482.7" y="46.3" font-size="17" font-weight="bold" text-anchor="middle">EXP</text>
<circle cx="438.6" cy="67.5" r="4.6" fill="#e8000e"/>
<path d="M438.5,84.5L444,90.2L438.5,95.9L433,90.2Z" fill="#0a0ad0"/>
<rect x="434.6" y="109.4" width="8.4" height="8.2" fill="#0a7a2a"/>
<path d="M432.4,139.8L438.6,128.9L444.9,139.8Z" fill="#10b0e0"/>
<path d="M432.2,154.8L445.2,154.8L438.7,165.9Z" fill="#f0108a"/>
<path d="M456.80,60.20h10.90v1.75h-10.90zM456.80,60.20h1.10v2.90h-1.10zM466.60,60.20h1.10v2.90h-1.10zM458.30,65.75h7.90v1.50h-7.90zM458.30,64.60h1.00v3.80h-1.00zM465.20,64.60h1.00v3.80h-1.00zM456.80,71.05h10.90v1.75h-10.90zM456.80,69.80h1.10v3.00h-1.10zM466.60,69.80h1.10v3.00h-1.10z" fill="#000"/>
<path d="M474.5,64.62h9.6v1.35h-9.6zM474.5,69.12h9.6v1.35h-9.6z" fill="#000"/>
<text x="488.6" y="72.1" font-size="18.4">7.3</text>
<path d="M456.80,84.00h10.90v1.75h-10.90zM456.80,84.00h1.10v2.90h-1.10zM466.60,84.00h1.10v2.90h-1.10zM458.30,89.55h7.90v1.50h-7.90zM458.30,88.40h1.00v3.80h-1.00zM465.20,88.40h1.00v3.80h-1.00zM456.80,94.85h10.90v1.75h-10.90zM456.80,93.60h1.10v3.00h-1.10zM466.60,93.60h1.10v3.00h-1.10z" fill="#000"/>
<path d="M474.5,88.42h9.6v1.35h-9.6zM474.5,92.73h9.6v1.35h-9.6z" fill="#000"/>
<text x="488.6" y="95.2" font-size="18.4">8.9</text>
<path d="M456.80,108.00h10.90v1.75h-10.90zM456.80,108.00h1.10v2.90h-1.10zM466.60,108.00h1.10v2.90h-1.10zM458.30,113.55h7.90v1.50h-7.90zM458.30,112.40h1.00v3.80h-1.00zM465.20,112.40h1.00v3.80h-1.00zM456.80,118.85h10.90v1.75h-10.90zM456.80,117.60h1.10v3.00h-1.10zM466.60,117.60h1.10v3.00h-1.10z" fill="#000"/>
<path d="M474.5,110.92h9.6v1.35h-9.6zM474.5,115.42h9.6v1.35h-9.6z" fill="#000"/>
<text x="488.6" y="118.2" font-size="18.4">10.2</text>
<path d="M456.80,129.90h10.90v1.75h-10.90zM456.80,129.90h1.10v2.90h-1.10zM466.60,129.90h1.10v2.90h-1.10zM458.30,135.45h7.90v1.50h-7.90zM458.30,134.30h1.00v3.80h-1.00zM465.20,134.30h1.00v3.80h-1.00zM456.80,140.75h10.90v1.75h-10.90zM456.80,139.50h1.10v3.00h-1.10zM466.60,139.50h1.10v3.00h-1.10z" fill="#000"/>
<path d="M474.5,132.52h9.6v1.35h-9.6zM474.5,137.02h9.6v1.35h-9.6z" fill="#000"/>
<text x="488.6" y="140.4" font-size="18.4">11.2</text>
<path d="M456.80,151.20h10.90v1.75h-10.90zM456.80,151.20h1.10v2.90h-1.10zM466.60,151.20h1.10v2.90h-1.10zM458.30,156.75h7.90v1.50h-7.90zM458.30,155.60h1.00v3.80h-1.00zM465.20,155.60h1.00v3.80h-1.00zM456.80,162.05h10.90v1.75h-10.90zM456.80,160.80h1.10v3.00h-1.10zM466.60,160.80h1.10v3.00h-1.10z" fill="#000"/>
<path d="M474.5,154.02h9.6v1.35h-9.6zM474.5,158.52h9.6v1.35h-9.6z" fill="#000"/>
<text x="488.6" y="162.4" font-size="18.4">12.5</text>
</svg></body></html>
